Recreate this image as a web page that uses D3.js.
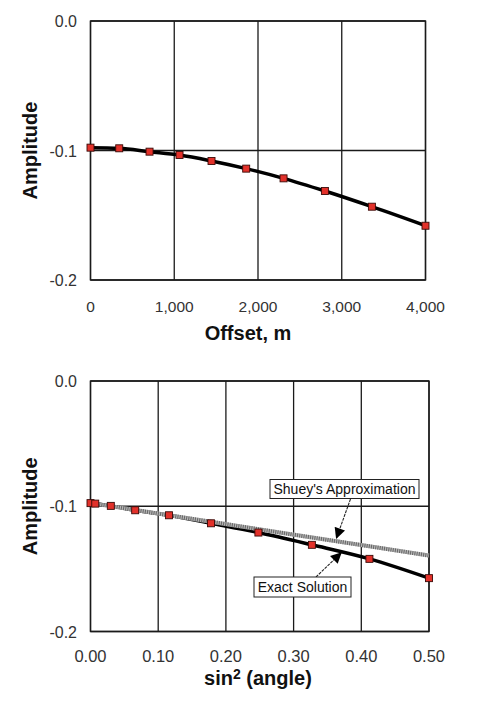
<!DOCTYPE html>
<html>
<head>
<meta charset="utf-8">
<script src="https://cdn.jsdelivr.net/npm/d3@7/dist/d3.min.js"></script>
<style>
  html, body { margin: 0; padding: 0; background: #fff; }
  svg { display: block; }
  text { font-family: "Liberation Sans", Arial, Helvetica, sans-serif; }
</style>
</head>
<body>
<svg id="chart" width="486" height="702"></svg>
<script>
// ---- Data ----
const offsets = [0, 343, 705, 1063, 1445, 1859, 2305, 2799, 3360, 4000];
const amplitudeOffset = [-0.0978, -0.0983, -0.1009, -0.1035, -0.1081, -0.1140, -0.1215, -0.1313, -0.1434, -0.1581];

const sin2 = [0.000, 0.007, 0.030, 0.066, 0.116, 0.178, 0.248, 0.327, 0.412, 0.500];
const exactSolution = [-0.0975, -0.0979, -0.0997, -0.1032, -0.1072, -0.1136, -0.1210, -0.1308, -0.1420, -0.1574];
const shueyApprox = [-0.0975, -0.0981, -0.0999, -0.1030, -0.1072, -0.1124, -0.1183, -0.1249, -0.1320, -0.1394];

const offsetTicks = [0, 1000, 2000, 3000, 4000];
const offsetTickLabels = ["0", "1,000", "2,000", "3,000", "4,000"];
const sin2Ticks = [0, 0.1, 0.2, 0.3, 0.4, 0.5];
const sin2TickLabels = ["0.00", "0.10", "0.20", "0.30", "0.40", "0.50"];
const ampTicks = [0, -0.1, -0.2];
const ampTickLabels = ["0.0", "-0.1", "-0.2"];

// ---- Drawing ----
const svg = d3.select("#chart");
const defs = svg.append("defs");

function panel(opts) {
  const g = svg.append("g");
  const x = d3.scaleLinear().domain(opts.xDomain).range(opts.xRange);
  const y = d3.scaleLinear().domain([0, -0.2]).range(opts.yRange);

  g.append("g").selectAll("line").data(opts.xTicks).join("line")
    .attr("x1", d => x(d)).attr("x2", d => x(d))
    .attr("y1", opts.yRange[0]).attr("y2", opts.yRange[1])
    .attr("stroke", "#1a1a1a").attr("stroke-width", 1.3);
  g.append("g").selectAll("line").data(ampTicks).join("line")
    .attr("x1", opts.xRange[0]).attr("x2", opts.xRange[1])
    .attr("y1", d => y(d)).attr("y2", d => y(d))
    .attr("stroke", "#1a1a1a").attr("stroke-width", 1.3);
  g.append("rect")
    .attr("x", opts.xRange[0]).attr("y", opts.yRange[0])
    .attr("width", opts.xRange[1] - opts.xRange[0])
    .attr("height", opts.yRange[1] - opts.yRange[0])
    .attr("fill", "none").attr("stroke", "#1a1a1a").attr("stroke-width", 1.4);

  g.append("g").selectAll("text").data(ampTicks).join("text")
    .attr("x", 77).attr("y", d => y(d) + 6)
    .attr("text-anchor", "end")
    .attr("font-size", 16).attr("fill", "#333")
    .text((d, i) => ampTickLabels[i]);
  g.append("g").selectAll("text").data(opts.xTicks).join("text")
    .attr("x", d => x(d)).attr("y", opts.xLabelY)
    .attr("text-anchor", "middle")
    .attr("font-size", opts.xLabelSize).attr("fill", "#333")
    .text((d, i) => opts.xTickLabels[i]);

  const ymid = (opts.yRange[0] + opts.yRange[1]) / 2;
  g.append("text")
    .attr("transform", `translate(36.5,${ymid}) rotate(-90)`)
    .attr("text-anchor", "middle")
    .attr("font-size", 20).attr("font-weight", "bold").attr("fill", "#111")
    .text("Amplitude");

  return { g, x, y };
}

// ---------- Top panel ----------
const topP = panel({
  xDomain: [0, 4000], xRange: [90.5, 425.5], yRange: [21, 280],
  xTicks: offsetTicks, xTickLabels: offsetTickLabels, xLabelY: 311.5, xLabelSize: 15.5
});
topP.g.append("text")
  .attr("x", 248).attr("y", 340)
  .attr("text-anchor", "middle")
  .attr("font-size", 20).attr("font-weight", "bold").attr("fill", "#111")
  .text("Offset, m");

const lineTop = d3.line().curve(d3.curveMonotoneX)
  .x((d, i) => topP.x(offsets[i])).y(d => topP.y(d));
topP.g.append("path").datum(amplitudeOffset)
  .attr("d", lineTop).attr("fill", "none")
  .attr("stroke", "#000").attr("stroke-width", 3.5);
topP.g.append("g").selectAll("rect").data(amplitudeOffset).join("rect")
  .attr("x", (d, i) => topP.x(offsets[i]) - 3.5)
  .attr("y", d => topP.y(d) - 3.5)
  .attr("width", 7).attr("height", 7)
  .attr("fill", "#e2312a").attr("stroke", "#3a0a08").attr("stroke-width", 0.9);

// ---------- Bottom panel ----------
const botP = panel({
  xDomain: [0, 0.5], xRange: [90.5, 429], yRange: [381, 631.5],
  xTicks: sin2Ticks, xTickLabels: sin2TickLabels, xLabelY: 661.5, xLabelSize: 16.5
});
const xt = botP.g.append("text")
  .attr("x", 258).attr("y", 685)
  .attr("text-anchor", "middle")
  .attr("font-size", 20).attr("font-weight", "bold").attr("fill", "#111");
xt.append("tspan").text("sin");
xt.append("tspan").attr("font-size", 14).attr("dy", -6).text("2");
xt.append("tspan").attr("dy", 6).text(" (angle)");

const lineExact = d3.line().curve(d3.curveMonotoneX)
  .x((d, i) => botP.x(sin2[i])).y(d => botP.y(d));
botP.g.append("path").datum(exactSolution)
  .attr("d", lineExact).attr("fill", "none")
  .attr("stroke", "#000").attr("stroke-width", 3.5);

const lineShuey = d3.line()
  .x((d, i) => botP.x(sin2[i])).y(d => botP.y(d));
botP.g.append("path").datum(shueyApprox)
  .attr("d", lineShuey).attr("fill", "none")
  .attr("stroke", "#b5b5b5").attr("stroke-width", 4);
botP.g.append("path").datum(shueyApprox)
  .attr("d", lineShuey).attr("fill", "none")
  .attr("stroke", "#666").attr("stroke-width", 4)
  .attr("stroke-dasharray", "1,1.2");

botP.g.append("g").selectAll("rect").data(exactSolution).join("rect")
  .attr("x", (d, i) => botP.x(sin2[i]) - 3.5)
  .attr("y", d => botP.y(d) - 3.5)
  .attr("width", 7).attr("height", 7)
  .attr("fill", "#e2312a").attr("stroke", "#3a0a08").attr("stroke-width", 0.9);

defs.append("marker").attr("id", "arrow")
  .attr("viewBox", "0 0 10 10").attr("refX", 9).attr("refY", 5)
  .attr("markerWidth", 12).attr("markerHeight", 11)
  .attr("markerUnits", "userSpaceOnUse")
  .attr("orient", "auto")
  .append("path").attr("d", "M0,0 L10,5 L0,10 Z").attr("fill", "#000");

function callout(label, bx, by, bw, bh, ax1, ay1, ax2, ay2) {
  botP.g.append("line")
    .attr("x1", ax1).attr("y1", ay1).attr("x2", ax2).attr("y2", ay2)
    .attr("stroke", "#222").attr("stroke-width", 1.1)
    .attr("stroke-dasharray", "3,1")
    .attr("marker-end", "url(#arrow)");
  botP.g.append("rect")
    .attr("x", bx).attr("y", by).attr("width", bw).attr("height", bh)
    .attr("fill", "#fff").attr("stroke", "#222").attr("stroke-width", 1);
  botP.g.append("text")
    .attr("x", bx + bw / 2).attr("y", by + bh / 2 + 5)
    .attr("text-anchor", "middle")
    .attr("font-size", 14).attr("fill", "#111")
    .text(label);
}
callout("Shuey's Approximation", 270, 479.5, 149, 19, 350.5, 499, 336.5, 538);
callout("Exact Solution", 254, 577, 97, 20, 316, 577, 341, 553);
</script>
</body>
</html>
